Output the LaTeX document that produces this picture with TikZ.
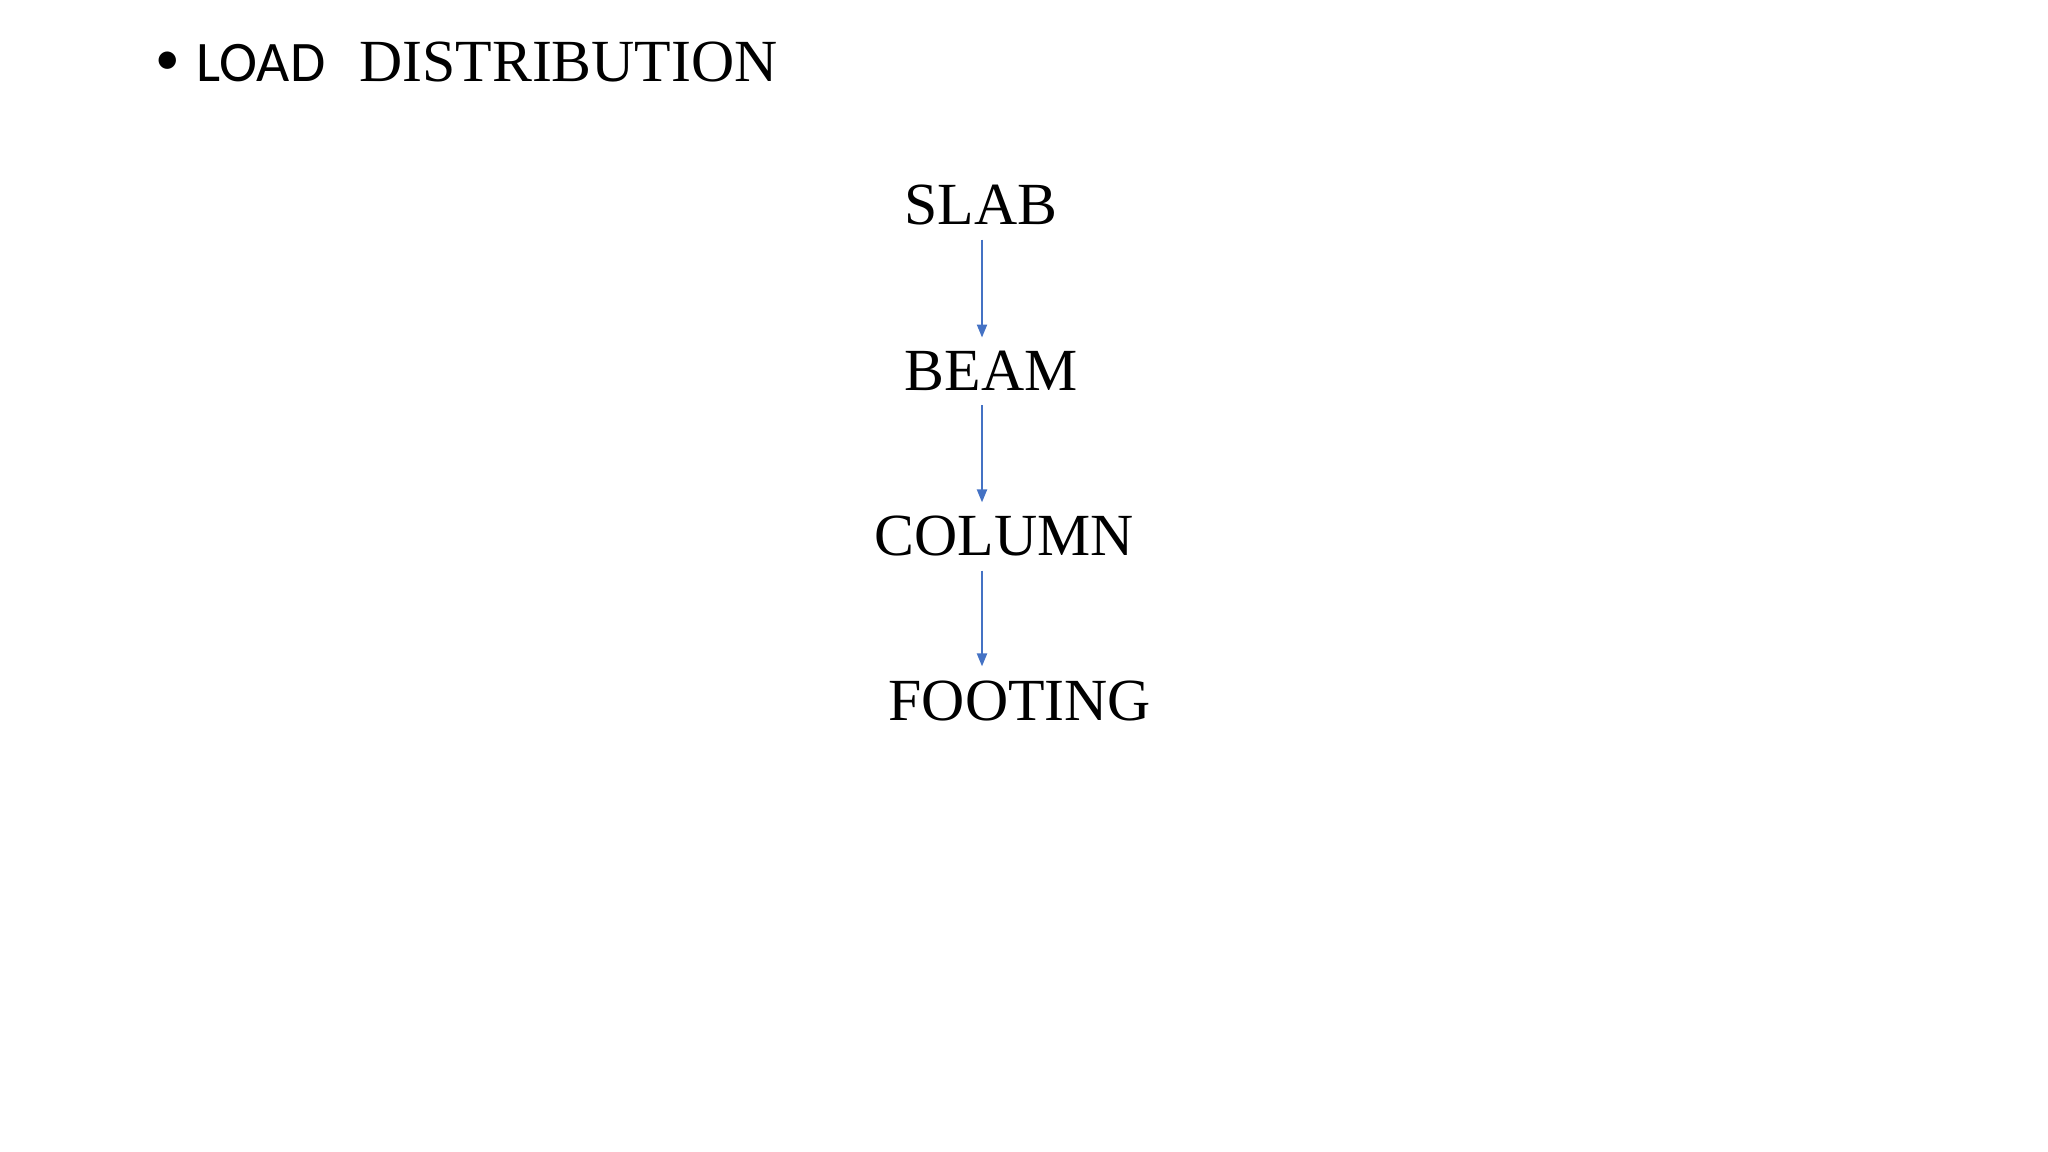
\documentclass[tikz,border=0pt]{standalone}
\usepackage{fontspec}
\setmainfont{Liberation Serif}
\newfontfamily\bodyfont{Carlito}
\usetikzlibrary{arrows.meta}
\definecolor{flowblue}{RGB}{68,114,196}
\begin{document}
\begin{tikzpicture}[x=0.01cm, y=-0.01cm,
  member/.style = {inner sep=0, outer ysep=0.14cm, anchor=base west, font=\fontsize{17}{20}\selectfont},
  flow/.style = {draw=flowblue, line width=0.6pt, -{Triangle[length=0.13cm, width=0.1cm]}}]
\useasboundingbox (0,0) rectangle (2048,1152);
\node[inner sep=0, font=\bodyfont\fontsize{14}{17}\selectfont] (dot) at (168,63) {•};
\node[inner sep=0, anchor=base west, font=\fontsize{17}{20}\selectfont] (title) at (196,82) {{\bodyfont\fontsize{16.3}{19}\selectfont LOAD}\hspace{0.34cm}DISTRIBUTION};
\node[member] (slab) at (904,225) {SLAB};
\node[member] (beam) at (904,391) {BEAM};
\node[member] (column) at (874,556) {COLUMN};
\node[member] (footing) at (888,720) {FOOTING};
\coordinate (spine) at (982,0);
\foreach \a/\b in {slab/beam,beam/column,column/footing} \draw [flow] (\a.south -| spine) -- (\b.north -| spine);
\end{tikzpicture}
\end{document}
